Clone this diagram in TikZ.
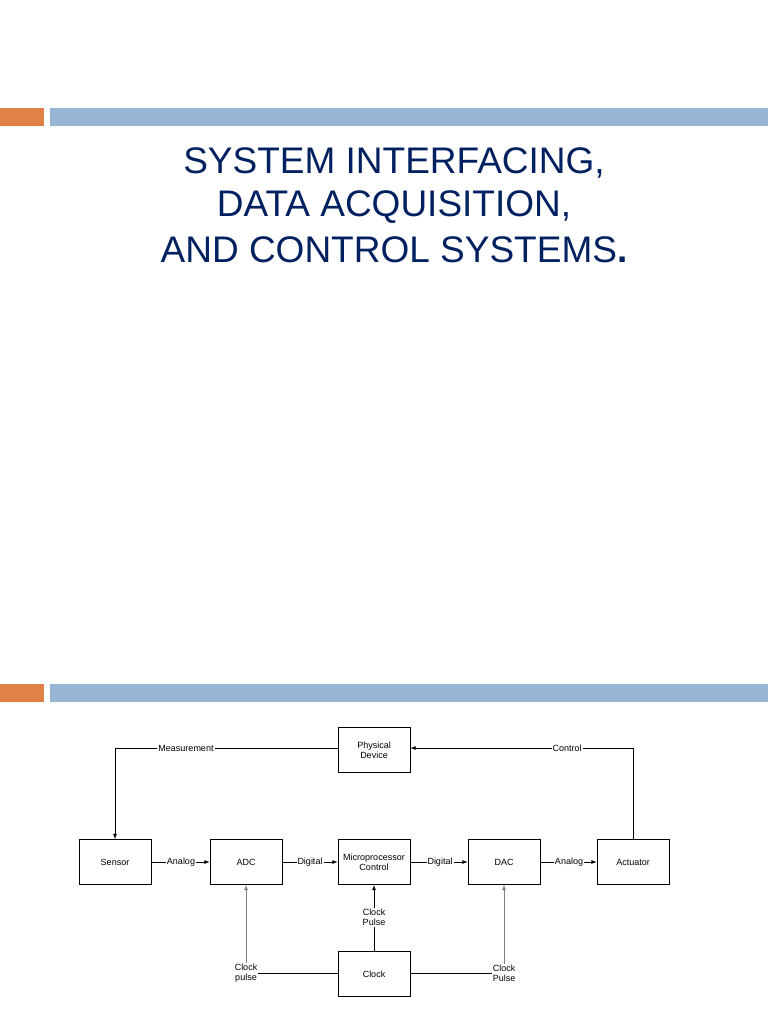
\documentclass[tikz,border=0pt]{standalone}
\usepackage{fontspec}
\setmainfont{Liberation Sans}
\definecolor{navy}{RGB}{0,32,96}
\definecolor{barorange}{RGB}{224,130,70}
\definecolor{barblue}{RGB}{150,182,212}
\begin{document}
\begin{tikzpicture}[x=1pt,y=-1pt,
  blk/.style={draw,line width=0.8pt,minimum width=72pt,minimum height=45pt,inner sep=1pt,font=\fontsize{9}{10}\selectfont,align=center},
  lbl/.style={fill=white,inner sep=1pt,font=\fontsize{9}{10}\selectfont,align=center},
  arr/.style={-latex,line width=0.8pt},
  garr/.style={-latex,line width=0.8pt,draw=black!50}]
\useasboundingbox (0,0) rectangle (768,1024);
\fill[barorange] (0,108) rectangle (44,126);
\fill[barblue] (50,108) rectangle (768,126);
\fill[barorange] (0,684) rectangle (44,702);
\fill[barblue] (50,684) rectangle (768,702);
\node[text=navy,font=\fontsize{37}{44}\selectfont] (t1) at (394,163) {SYSTEM INTERFACING,};
\node[text=navy,font=\fontsize{37}{44}\selectfont] (t2) at (394,207) {DATA ACQUISITION,};
\node[text=navy,font=\fontsize{37}{44}\selectfont] (t3) at (394,250) {AND CONTROL SYSTEMS\textbf{.}};
\node[blk] (phys) at (374,750) {Physical\\Device};
\node[blk] (sens) at (115,862) {Sensor};
\node[blk] (adc) at (246,862) {ADC};
\node[blk] (mp) at (374,862) {Microprocessor\\Control};
\node[blk] (dac) at (504,862) {DAC};
\node[blk] (act) at (633,862) {Actuator};
\node[blk] (clk) at (374,974) {Clock};
\coordinate (mL) at (115,748);
\coordinate (cR) at (633,748);
\draw[arr] (phys.west |- mL) -- (mL) -- (sens.north);
\node[lbl] (meas) at (186,748) {Measurement};
\draw[arr] (act.north) -- (cR) -- (phys.east |- cR);
\node[lbl] (ctl) at (567,748) {Control};
\draw[arr] (sens) -- (adc);
\node[lbl] at (181,862) {Analog};
\draw[arr] (adc) -- (mp);
\node[lbl] at (310,862) {Digital};
\draw[arr] (mp) -- (dac);
\node[lbl] at (440,862) {Digital};
\draw[arr] (dac) -- (act);
\node[lbl] at (569,862) {Analog};
\node[lbl] (cp1) at (246,973) {Clock\\pulse};
\node[lbl] (cp2) at (374,917) {Clock\\Pulse};
\node[lbl] (cp3) at (504,973) {Clock\\Pulse};
\draw[line width=0.8pt] (clk.west |- cp1) -- (cp1.east);
\draw[line width=0.8pt] (clk.east |- cp3) -- (cp3.west);
\draw[line width=0.8pt] (clk.north) -- (cp2.south);
\draw[garr] (cp1.north) -- (adc.south);
\draw[arr] (cp2.north) -- (mp.south);
\draw[garr] (cp3.north) -- (dac.south);
\end{tikzpicture}
\end{document}
